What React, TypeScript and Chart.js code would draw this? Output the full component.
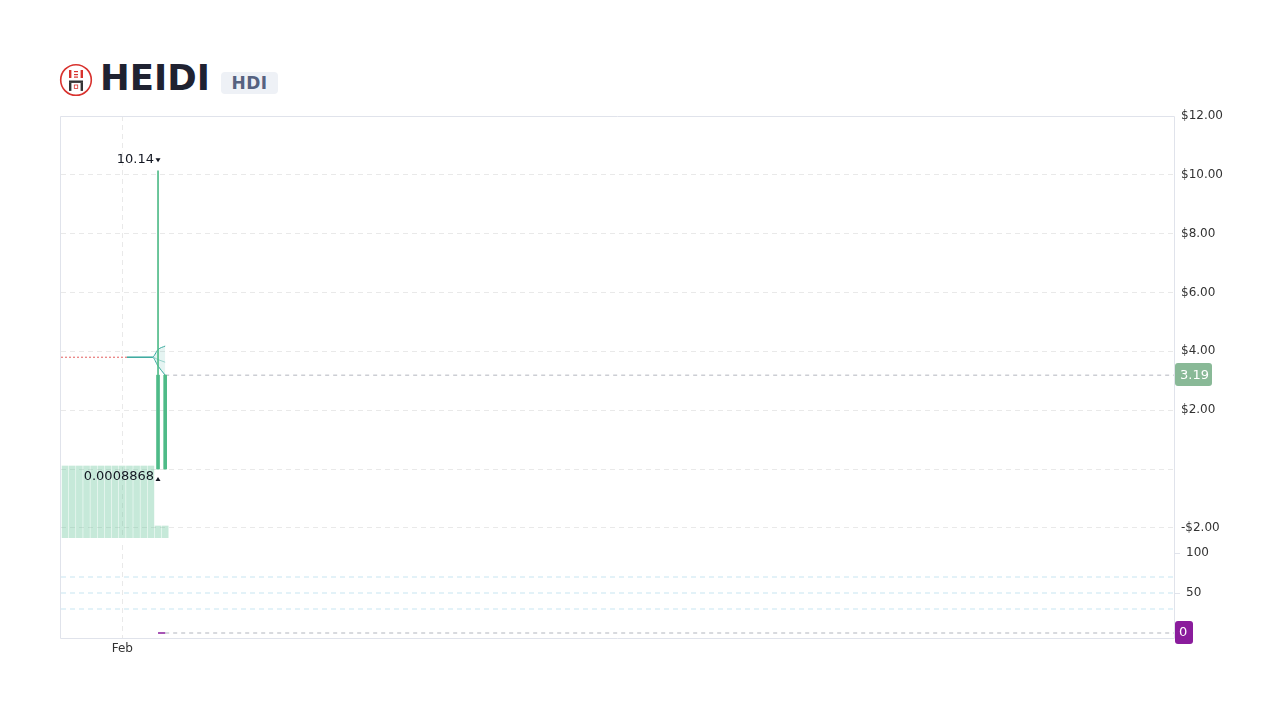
import React, { useEffect, useRef } from 'react';
import { Chart, registerables } from 'chart.js';

Chart.register(...registerables);

// ---------- data ----------
const xMinDay = -8.57;
const xMaxDay = 147.09;
const monthTickDays = [0];
const monthTickLabels = ['Feb'];

const volumeDays = [-8, -7, -6, -5, -4, -3, -2, -1, 0, 1, 2, 3, 4, 5, 6];
const volumeValues = [1200, 1200, 1200, 1200, 1200, 1200, 1200, 1200, 1200, 1200, 1200, 1200, 1200, 200, 200];

const candleDays = [5, 6];
const candleOpen = [0.0008868, 0.0008868];
const candleHigh = [10.14, 3.19];
const candleLow = [0.0008868, 0.0008868];
const candleClose = [3.19, 3.19];

const smaDays = [-8.57, 0.65];
const smaValues = [3.8, 3.8];

const bandDays = [0.65, 4.2, 5, 6];
const bandUpper = [3.8, 3.8, 4.06, 4.18];
const bandMiddle = [3.8, 3.8, 3.72, 3.63];
const bandLower = [3.8, 3.8, 3.5, 3.19];

const lastPrice = 3.19;

const priceTicks = [-2, 0, 2, 4, 6, 8, 10, 12];
const priceMin = -2.345;
const priceMax = 12;

const rsiDays = [5, 6];
const rsiValues = [0, 0];
const rsiLevels = [70, 50, 30];
const rsiTicks = [0, 50, 100];
const rsiMin = -6.25;
const rsiMax = 110;
const lastRsi = 0;

const volumeAxisMax = 7033;

// ---------- styles ----------
const FONT = '"DejaVu Sans", sans-serif';
const GREEN = '#4fbb88';
const VOL = 'rgba(79,187,136,0.32)';
const TEAL = '#38a89d';
const GRID = 'rgba(0,0,0,0.085)';
const FRAME = '#e0e3eb';
const AXIS_TEXT = '#333333';
const PURPLE = '#8a1c9c';

const pts = (xs: number[], ys: number[]) => xs.map((x, i) => ({ x, y: ys[i] }));

function roundRect(ctx: CanvasRenderingContext2D, x: number, y: number, w: number, h: number, r: number) {
  ctx.beginPath();
  ctx.moveTo(x + r, y);
  ctx.lineTo(x + w - r, y);
  ctx.quadraticCurveTo(x + w, y, x + w, y + r);
  ctx.lineTo(x + w, y + h - r);
  ctx.quadraticCurveTo(x + w, y + h, x + w - r, y + h);
  ctx.lineTo(x + r, y + h);
  ctx.quadraticCurveTo(x, y + h, x, y + h - r);
  ctx.lineTo(x, y + r);
  ctx.quadraticCurveTo(x, y, x + r, y);
  ctx.closePath();
}

const monthTicksFn = (s: any) => {
  s.ticks = monthTickDays.map((v) => ({ value: v }));
};
const monthLabelFn = (v: any) => {
  const i = monthTickDays.indexOf(Number(v));
  return i >= 0 ? monthTickLabels[i] : '';
};
const noPad = (s: any) => {
  s.paddingTop = 0;
  s.paddingBottom = 0;
  s.paddingLeft = 0;
  s.paddingRight = 0;
};

export default function App() {
  const priceRef = useRef<HTMLCanvasElement>(null);
  const rsiRef = useRef<HTMLCanvasElement>(null);

  useEffect(() => {
    Chart.defaults.font.family = FONT;

    const priceFrame = {
      id: 'priceFrame',
      afterDraw(chart: any) {
        const { ctx, chartArea } = chart;
        const h = chart.height;
        ctx.save();
        ctx.strokeStyle = FRAME;
        ctx.lineWidth = 1;
        ctx.beginPath();
        ctx.moveTo(chartArea.left - 0.5, h);
        ctx.lineTo(chartArea.left - 0.5, chartArea.top + 0.5);
        ctx.lineTo(chartArea.right + 0.5, chartArea.top + 0.5);
        ctx.lineTo(chartArea.right + 0.5, h);
        ctx.stroke();
        ctx.restore();
      },
    };

    const priceLabels = {
      id: 'priceLabels',
      afterDraw(chart: any) {
        const { ctx, chartArea } = chart;
        const x = chart.scales.x;
        const y = chart.scales.y;
        const hiIdx = candleHigh.indexOf(Math.max(...candleHigh));
        const loIdx = candleLow.indexOf(Math.min(...candleLow));
        ctx.save();
        ctx.font = '13px ' + FONT;
        ctx.fillStyle = '#131722';
        ctx.textBaseline = 'middle';
        ctx.textAlign = 'right';
        const hx = Math.round(x.getPixelForValue(candleDays[hiIdx]));
        const hy = y.getPixelForValue(candleHigh[hiIdx]);
        ctx.fillText(String(candleHigh[hiIdx]), hx - 4, hy - 11);
        ctx.beginPath();
        ctx.moveTo(hx - 2.5, hy - 12.5);
        ctx.lineTo(hx + 2.5, hy - 12.5);
        ctx.lineTo(hx, hy - 8.5);
        ctx.closePath();
        ctx.fill();
        const lx = Math.round(x.getPixelForValue(candleDays[loIdx]));
        const ly = y.getPixelForValue(candleLow[loIdx]);
        ctx.fillText(String(candleLow[loIdx]), lx - 4, ly + 8);
        ctx.beginPath();
        ctx.moveTo(lx - 2.5, ly + 12);
        ctx.lineTo(lx + 2.5, ly + 12);
        ctx.lineTo(lx, ly + 8);
        ctx.closePath();
        ctx.fill();

        // last price tag
        const py = y.getPixelForValue(lastPrice);
        ctx.fillStyle = '#89b997';
        roundRect(ctx, chartArea.right + 1, Math.round(py) - 12, 37, 23, 3);
        ctx.fill();
        ctx.fillStyle = '#ffffff';
        ctx.textAlign = 'left';
        ctx.fillText(lastPrice.toFixed(2), chartArea.right + 6, py);
        ctx.restore();
      },
    };

    const rsiFrame = {
      id: 'rsiFrame',
      afterDraw(chart: any) {
        const { ctx, chartArea } = chart;
        ctx.save();
        ctx.strokeStyle = FRAME;
        ctx.lineWidth = 1;
        ctx.beginPath();
        ctx.moveTo(chartArea.left - 0.5, 0);
        ctx.lineTo(chartArea.left - 0.5, chartArea.bottom + 0.5);
        ctx.lineTo(chartArea.right + 0.5, chartArea.bottom + 0.5);
        ctx.lineTo(chartArea.right + 0.5, 0);
        ctx.stroke();
        const y = chart.scales.y;
        const py = y.getPixelForValue(lastRsi);
        ctx.fillStyle = PURPLE;
        roundRect(ctx, chartArea.right + 1, Math.round(py) - 12, 18, 23, 3);
        ctx.fill();
        ctx.fillStyle = '#ffffff';
        ctx.font = '13px ' + FONT;
        ctx.textBaseline = 'middle';
        ctx.textAlign = 'left';
        ctx.fillText(String(lastRsi), chartArea.right + 5, py);
        ctx.restore();
      },
    };

    const priceChart = new Chart(priceRef.current as HTMLCanvasElement, {
      type: 'line',
      data: {
        datasets: [
          {
            type: 'bar',
            data: candleDays.map((d, i) => ({ x: d, y: [candleLow[i], candleHigh[i]] })) as any,
            backgroundColor: GREEN,
            barThickness: 1,
            grouped: false,
            borderWidth: 0,
          } as any,
          {
            type: 'bar',
            data: candleDays.map((d, i) => ({ x: d, y: [candleOpen[i], candleClose[i]] })) as any,
            backgroundColor: GREEN,
            barThickness: 3,
            grouped: false,
            borderWidth: 0,
          } as any,
          {
            data: pts([candleDays[candleDays.length - 1], xMaxDay], [lastPrice, lastPrice]),
            borderColor: '#b2b5be',
            borderWidth: 1,
            borderDash: [4, 4],
            pointRadius: 0,
          },
          {
            data: pts(smaDays, smaValues),
            borderColor: '#e35d5d',
            borderWidth: 1,
            borderDash: [2, 2],
            pointRadius: 0,
          },
          {
            data: pts(bandDays, bandUpper),
            borderColor: TEAL,
            borderWidth: 1,
            pointRadius: 0,
            cubicInterpolationMode: 'monotone',
          },
          {
            data: pts(bandDays, bandMiddle),
            borderColor: 'rgba(56,168,157,0.45)',
            borderWidth: 1,
            pointRadius: 0,
            cubicInterpolationMode: 'monotone',
          },
          {
            data: pts(bandDays, bandLower),
            borderColor: TEAL,
            borderWidth: 1,
            pointRadius: 0,
            cubicInterpolationMode: 'monotone',
            fill: 4,
            backgroundColor: 'rgba(56,168,157,0.13)',
          },
          {
            type: 'bar',
            yAxisID: 'yv',
            data: pts(volumeDays, volumeValues),
            backgroundColor: VOL,
            barThickness: 6,
            grouped: false,
            borderWidth: 0,
          } as any,
        ],
      },
      options: {
        animation: false,
        responsive: false,
        maintainAspectRatio: false,
        layout: { padding: { left: 61, top: 116, right: 46, bottom: 2 } },
        plugins: { legend: { display: false }, tooltip: { enabled: false } },
        scales: {
          x: {
            type: 'linear',
            min: xMinDay,
            max: xMaxDay,
            offset: false,
            afterBuildTicks: monthTicksFn,
            afterFit: (s: any) => {
              s.height = 0;
              noPad(s);
            },
            ticks: { display: false },
            grid: { color: GRID, drawTicks: false, offset: false },
            border: { display: false, dash: [5, 4] },
          },
          y: {
            type: 'linear',
            position: 'right',
            min: priceMin,
            max: priceMax,
            afterBuildTicks: (s: any) => {
              s.ticks = priceTicks.map((v) => ({ value: v }));
            },
            afterFit: (s: any) => {
              s.width = 60;
              noPad(s);
            },
            ticks: {
              padding: 7,
              color: AXIS_TEXT,
              font: { size: 12, family: FONT },
              callback: (v: any) => (Number(v) === 0 ? '' : (Number(v) < 0 ? '-$' : '$') + Math.abs(Number(v)).toFixed(2)),
            },
            grid: { color: GRID, drawTicks: false },
            border: { display: false, dash: [5, 4] },
          },
          yv: {
            type: 'linear',
            display: false,
            min: 0,
            max: volumeAxisMax,
          },
        },
      } as any,
      plugins: [priceFrame, priceLabels],
    });

    const rsiChart = new Chart(rsiRef.current as HTMLCanvasElement, {
      type: 'line',
      data: {
        datasets: [
          {
            data: pts(rsiDays, rsiValues),
            borderColor: PURPLE,
            borderWidth: 1.5,
            pointRadius: 0,
          },
          {
            data: pts([rsiDays[rsiDays.length - 1], xMaxDay], [lastRsi, lastRsi]),
            borderColor: '#b2b5be',
            borderWidth: 1,
            borderDash: [4, 4],
            pointRadius: 0,
          },
          ...rsiLevels.map((lv) => ({
            data: pts([xMinDay, xMaxDay], [lv, lv]),
            borderColor: 'rgba(130,195,225,0.45)',
            borderWidth: 1,
            borderDash: [5, 4],
            pointRadius: 0,
          })),
        ],
      },
      options: {
        animation: false,
        responsive: false,
        maintainAspectRatio: false,
        layout: { padding: { left: 61, top: 7, right: 46, bottom: 62 } },
        plugins: { legend: { display: false }, tooltip: { enabled: false } },
        scales: {
          x: {
            type: 'linear',
            min: xMinDay,
            max: xMaxDay,
            offset: false,
            afterBuildTicks: monthTicksFn,
            afterFit: (s: any) => {
              s.height = 20;
              noPad(s);
            },
            ticks: {
              padding: 4,
              color: AXIS_TEXT,
              font: { size: 12, family: FONT },
              maxRotation: 0,
              callback: monthLabelFn,
            },
            grid: { color: GRID, drawTicks: false },
            border: { display: false, dash: [5, 4] },
          },
          y: {
            type: 'linear',
            position: 'right',
            min: rsiMin,
            max: rsiMax,
            afterBuildTicks: (s: any) => {
              s.ticks = rsiTicks.map((v) => ({ value: v }));
            },
            afterFit: (s: any) => {
              s.width = 60;
              noPad(s);
            },
            ticks: {
              padding: 6,
              color: AXIS_TEXT,
              font: { size: 12, family: FONT },
              callback: (v: any) => (Number(v) === 0 ? '' : String(v)),
            },
            grid: { color: FRAME, drawOnChartArea: false, drawTicks: true, tickLength: 6 },
            border: { display: false },
          },
        },
      } as any,
      plugins: [rsiFrame],
    });

    return () => {
      priceChart.destroy();
      rsiChart.destroy();
    };
  }, []);

  return (
    <div style={{ position: 'fixed', left: 0, top: 0, width: 1280, height: 720, background: '#ffffff', overflow: 'hidden' }}>
      <svg width={40} height={40} viewBox="0 0 40 40" style={{ position: 'absolute', left: 56, top: 60 }}>
        <circle cx={20} cy={20} r={15.3} fill="#ffffff" stroke="#d8322e" strokeWidth={1.6} />
        <rect x={13} y={10} width={2.4} height={8} fill="#d8322e" />
        <rect x={24.6} y={10} width={2.4} height={8} fill="#d8322e" />
        <rect x={13} y={20.5} width={14} height={2.4} fill="#333333" />
        <rect x={13} y={22.9} width={2.4} height={8} fill="#333333" />
        <rect x={24.6} y={22.9} width={2.4} height={8} fill="#333333" />
        <rect x={18} y={11} width={4} height={1.2} fill="#d8322e" />
        <rect x={18} y={14} width={4} height={1.2} fill="#d8322e" />
        <rect x={18} y={16.5} width={4} height={1.2} fill="#d8322e" />
        <rect x={18.3} y={25} width={3.4} height={3.4} fill="none" stroke="#d8322e" strokeWidth={0.8} />
      </svg>
      <div
        style={{
          position: 'absolute',
          left: 100,
          top: 60,
          fontFamily: FONT,
          fontWeight: 'bold',
          fontSize: 35.5,
          lineHeight: '35.5px',
          color: '#1f2231',
          whiteSpace: 'nowrap',
        }}
      >
        HEIDI
      </div>
      <div
        style={{
          position: 'absolute',
          left: 221,
          top: 72,
          width: 57,
          height: 22,
          borderRadius: 4,
          background: '#eef1f6',
          color: '#566280',
          fontFamily: FONT,
          fontWeight: 'bold',
          fontSize: 17,
          lineHeight: '22px',
          textAlign: 'center',
          letterSpacing: 0.5,
        }}
      >
        HDI
      </div>
      <canvas ref={priceRef} width={1280} height={540} style={{ position: 'absolute', left: 0, top: 0, width: 1280, height: 540 }} />
      <canvas ref={rsiRef} width={1280} height={182} style={{ position: 'absolute', left: 0, top: 538, width: 1280, height: 182 }} />
    </div>
  );
}
